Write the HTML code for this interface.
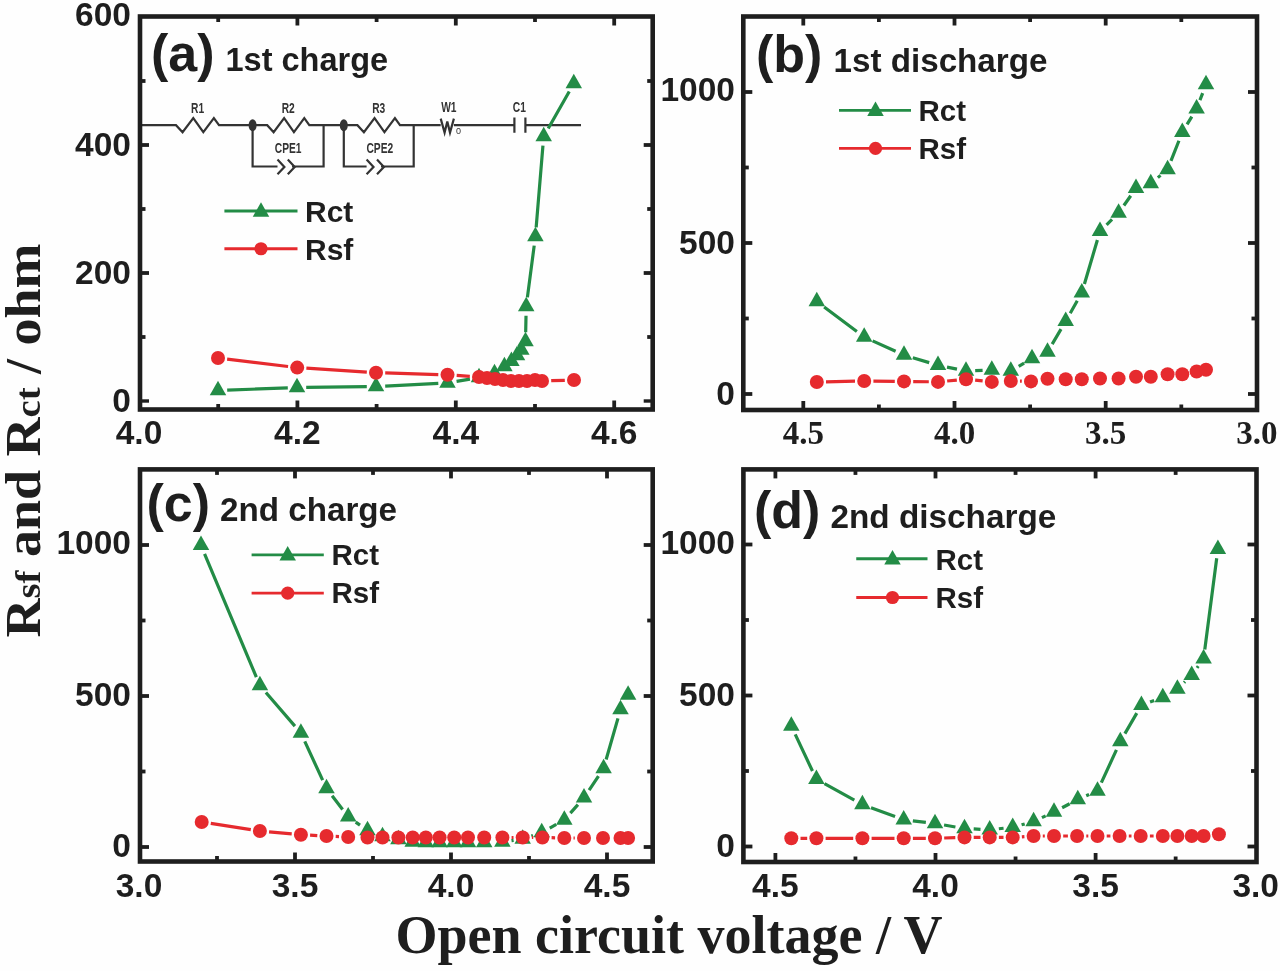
<!DOCTYPE html>
<html><head><meta charset="utf-8"><style>
html,body{margin:0;padding:0;background:#fff;width:1280px;height:971px;overflow:hidden}
svg{display:block;filter:blur(0.6px)}

</style></head><body>
<svg width="1280" height="971" viewBox="0 0 1280 971">
<rect width="1280" height="971" fill="#fefefe"/>
<line x1="218.20" y1="409.5" x2="218.20" y2="404.00" stroke="#1e1e1e" stroke-width="3.8"/>
<line x1="218.20" y1="16.5" x2="218.20" y2="22.00" stroke="#1e1e1e" stroke-width="3.8"/>
<line x1="297.40" y1="409.5" x2="297.40" y2="400.50" stroke="#1e1e1e" stroke-width="3.8"/>
<line x1="297.40" y1="16.5" x2="297.40" y2="25.50" stroke="#1e1e1e" stroke-width="3.8"/>
<line x1="376.60" y1="409.5" x2="376.60" y2="404.00" stroke="#1e1e1e" stroke-width="3.8"/>
<line x1="376.60" y1="16.5" x2="376.60" y2="22.00" stroke="#1e1e1e" stroke-width="3.8"/>
<line x1="455.80" y1="409.5" x2="455.80" y2="400.50" stroke="#1e1e1e" stroke-width="3.8"/>
<line x1="455.80" y1="16.5" x2="455.80" y2="25.50" stroke="#1e1e1e" stroke-width="3.8"/>
<line x1="535.00" y1="409.5" x2="535.00" y2="404.00" stroke="#1e1e1e" stroke-width="3.8"/>
<line x1="535.00" y1="16.5" x2="535.00" y2="22.00" stroke="#1e1e1e" stroke-width="3.8"/>
<line x1="614.20" y1="409.5" x2="614.20" y2="400.50" stroke="#1e1e1e" stroke-width="3.8"/>
<line x1="614.20" y1="16.5" x2="614.20" y2="25.50" stroke="#1e1e1e" stroke-width="3.8"/>
<line x1="140" y1="337.00" x2="145.50" y2="337.00" stroke="#1e1e1e" stroke-width="3.8"/>
<line x1="652.7" y1="337.00" x2="647.20" y2="337.00" stroke="#1e1e1e" stroke-width="3.8"/>
<line x1="140" y1="273.00" x2="149.00" y2="273.00" stroke="#1e1e1e" stroke-width="3.8"/>
<line x1="652.7" y1="273.00" x2="643.70" y2="273.00" stroke="#1e1e1e" stroke-width="3.8"/>
<line x1="140" y1="209.00" x2="145.50" y2="209.00" stroke="#1e1e1e" stroke-width="3.8"/>
<line x1="652.7" y1="209.00" x2="647.20" y2="209.00" stroke="#1e1e1e" stroke-width="3.8"/>
<line x1="140" y1="145.00" x2="149.00" y2="145.00" stroke="#1e1e1e" stroke-width="3.8"/>
<line x1="652.7" y1="145.00" x2="643.70" y2="145.00" stroke="#1e1e1e" stroke-width="3.8"/>
<line x1="140" y1="81.00" x2="145.50" y2="81.00" stroke="#1e1e1e" stroke-width="3.8"/>
<line x1="652.7" y1="81.00" x2="647.20" y2="81.00" stroke="#1e1e1e" stroke-width="3.8"/>
<line x1="140" y1="401.0" x2="149" y2="401.0" stroke="#1e1e1e" stroke-width="3.4"/>
<line x1="652.7" y1="401.0" x2="643.7" y2="401.0" stroke="#1e1e1e" stroke-width="3.4"/>
<text x="139.00" y="444.30" font-family='"Liberation Sans", sans-serif' font-weight="bold" font-size="33.5" text-anchor="middle" fill="#1e1e1e" >4.0</text>
<text x="297.40" y="444.30" font-family='"Liberation Sans", sans-serif' font-weight="bold" font-size="33.5" text-anchor="middle" fill="#1e1e1e" >4.2</text>
<text x="455.80" y="444.30" font-family='"Liberation Sans", sans-serif' font-weight="bold" font-size="33.5" text-anchor="middle" fill="#1e1e1e" >4.4</text>
<text x="614.20" y="444.30" font-family='"Liberation Sans", sans-serif' font-weight="bold" font-size="33.5" text-anchor="middle" fill="#1e1e1e" >4.6</text>
<text x="131.00" y="412.20" font-family='"Liberation Sans", sans-serif' font-weight="bold" font-size="33.5" text-anchor="end" fill="#1e1e1e" >0</text>
<text x="131.00" y="284.20" font-family='"Liberation Sans", sans-serif' font-weight="bold" font-size="33.5" text-anchor="end" fill="#1e1e1e" >200</text>
<text x="131.00" y="156.20" font-family='"Liberation Sans", sans-serif' font-weight="bold" font-size="33.5" text-anchor="end" fill="#1e1e1e" >400</text>
<text x="131.00" y="25.50" font-family='"Liberation Sans", sans-serif' font-weight="bold" font-size="33.5" text-anchor="end" fill="#1e1e1e" >600</text>
<g stroke="#333" stroke-width="2.2" fill="none" stroke-linejoin="miter">
<path d="M142 125.2 L176.00 125.20 L182.58 132.20 L193.29 118.20 L203.31 132.20 L213.88 118.20 L219.00 125.20 L267.2 125.2 L267.20 125.20 L273.64 132.20 L284.12 118.20 L293.93 132.20 L304.29 118.20 L309.30 125.20 L357.4 125.2 L357.40 125.20 L363.92 132.20 L374.53 118.20 L384.45 132.20 L394.93 118.20 L400.00 125.20 L440.7 125.2 M440.7 118.6 L444.6 132.6 L447.3 121.5 L450.0 132.6 L453.9 118.6 M453.9 125.2 L514.4 125.2 M525.4 125.2 L581 125.2"/>
<path d="M514.4 117.4 L514.4 132.7 M525.4 117.4 L525.4 132.7"/>
<path d="M252.6 125.2 L252.6 166.5 L277.5 166.5 M292 166.5 L323.6 166.5 L323.6 125.2"/>
<path d="M277.5 159.6 L284.4 166.9 L277.5 174.2 M287.8 159.6 L294.7 166.9 L287.8 174.2"/>
<path d="M343.8 125.2 L343.8 166.5 L366.6 166.5 M381 166.5 L413.7 166.5 L413.7 125.2"/>
<path d="M366.6 159.6 L373.5 166.9 L366.6 174.2 M377 159.6 L383.9 166.9 L377 174.2"/>
</g>
<ellipse cx="252.6" cy="125.2" rx="4" ry="6" fill="#333"/>
<ellipse cx="343.8" cy="125.2" rx="4" ry="6" fill="#333"/>
<text x="0" y="0" font-family='"Liberation Sans", sans-serif' font-weight="bold" font-size="15.5" text-anchor="middle" fill="#333" transform="translate(197.6 112.5) scale(0.66 1)">R1</text>
<text x="0" y="0" font-family='"Liberation Sans", sans-serif' font-weight="bold" font-size="15.5" text-anchor="middle" fill="#333" transform="translate(288.2 112.5) scale(0.66 1)">R2</text>
<text x="0" y="0" font-family='"Liberation Sans", sans-serif' font-weight="bold" font-size="15.5" text-anchor="middle" fill="#333" transform="translate(378.7 112.5) scale(0.66 1)">R3</text>
<text x="0" y="0" font-family='"Liberation Sans", sans-serif' font-weight="bold" font-size="15.5" text-anchor="middle" fill="#333" transform="translate(448.8 112) scale(0.66 1)">W1</text>
<text x="0" y="0" font-family='"Liberation Sans", sans-serif' font-weight="bold" font-size="15.5" text-anchor="middle" fill="#333" transform="translate(519.4 112) scale(0.66 1)">C1</text>
<text x="0" y="0" font-family='"Liberation Sans", sans-serif' font-weight="bold" font-size="15.5" text-anchor="middle" fill="#333" transform="translate(288.2 153.2) scale(0.66 1)">CPE1</text>
<text x="0" y="0" font-family='"Liberation Sans", sans-serif' font-weight="bold" font-size="15.5" text-anchor="middle" fill="#333" transform="translate(379.8 153) scale(0.66 1)">CPE2</text>
<text x="456" y="133.5" font-family='"Liberation Sans", sans-serif' font-size="9" fill="#333">0</text>
<line x1="224.4" y1="211" x2="297.5" y2="211" stroke="#238c46" stroke-width="2.8"/>
<path d="M261.00 202.15 L269.25 216.65 L252.75 216.65 Z" fill="#238c46"/>
<line x1="224.4" y1="248.75" x2="297.5" y2="248.75" stroke="#e62a2e" stroke-width="2.8"/>
<circle cx="261.00" cy="248.75" r="6.6" fill="#e62a2e"/>
<text x="305.00" y="221.90" font-family='"Liberation Sans", sans-serif' font-weight="bold" font-size="30" text-anchor="start" fill="#1e1e1e" >Rct</text>
<text x="305.00" y="260.00" font-family='"Liberation Sans", sans-serif' font-weight="bold" font-size="30" text-anchor="start" fill="#1e1e1e" >Rsf</text>
<text x="151.00" y="70.80" font-family='"Liberation Sans", sans-serif' font-weight="bold" font-size="52" text-anchor="start" fill="#1e1e1e" >(a)</text>
<text x="225.50" y="70.80" font-family='"Liberation Sans", sans-serif' font-weight="bold" font-size="32.5" text-anchor="start" fill="#1e1e1e" >1st charge</text>
<path d="M227.19 390.15 L287.81 387.85 M306.20 387.38 L366.80 386.62 M385.19 386.05 L438.31 383.45 M456.56 381.42 L469.94 379.08 M525.68 332.30 L526.02 315.70 M527.40 297.38 L534.20 245.62 M536.16 227.33 L542.94 145.67 M548.24 128.50 L569.26 91.50" fill="none" stroke="#238c46" stroke-width="3.2" stroke-linecap="butt"/>
<path d="M218.00 380.75 L226.25 395.25 L209.75 395.25 Z" fill="#238c46"/>
<path d="M297.00 377.75 L305.25 392.25 L288.75 392.25 Z" fill="#238c46"/>
<path d="M376.00 376.75 L384.25 391.25 L367.75 391.25 Z" fill="#238c46"/>
<path d="M447.50 373.25 L455.75 387.75 L439.25 387.75 Z" fill="#238c46"/>
<path d="M479.00 367.75 L487.25 382.25 L470.75 382.25 Z" fill="#238c46"/>
<path d="M494.50 363.75 L502.75 378.25 L486.25 378.25 Z" fill="#238c46"/>
<path d="M504.40 356.75 L512.65 371.25 L496.15 371.25 Z" fill="#238c46"/>
<path d="M511.40 351.45 L519.65 365.95 L503.15 365.95 Z" fill="#238c46"/>
<path d="M517.00 345.75 L525.25 360.25 L508.75 360.25 Z" fill="#238c46"/>
<path d="M521.30 340.25 L529.55 354.75 L513.05 354.75 Z" fill="#238c46"/>
<path d="M525.50 331.75 L533.75 346.25 L517.25 346.25 Z" fill="#238c46"/>
<path d="M526.20 296.75 L534.45 311.25 L517.95 311.25 Z" fill="#238c46"/>
<path d="M535.40 226.75 L543.65 241.25 L527.15 241.25 Z" fill="#238c46"/>
<path d="M543.70 126.75 L551.95 141.25 L535.45 141.25 Z" fill="#238c46"/>
<path d="M573.80 73.75 L582.05 88.25 L565.55 88.25 Z" fill="#238c46"/>
<path d="M227.13 359.11 L288.07 366.49 M306.38 368.19 L366.82 372.11 M385.20 372.97 L438.30 374.53 M456.68 375.44 L469.82 376.36 M551.20 380.71 L564.80 380.29" fill="none" stroke="#e62a2e" stroke-width="3.2" stroke-linecap="butt"/>
<circle cx="218.00" cy="358.00" r="7.0" fill="#e62a2e"/>
<circle cx="297.20" cy="367.60" r="7.0" fill="#e62a2e"/>
<circle cx="376.00" cy="372.70" r="7.0" fill="#e62a2e"/>
<circle cx="447.50" cy="374.80" r="7.0" fill="#e62a2e"/>
<circle cx="479.00" cy="377.00" r="7.0" fill="#e62a2e"/>
<circle cx="487.00" cy="378.00" r="7.0" fill="#e62a2e"/>
<circle cx="495.00" cy="379.00" r="7.0" fill="#e62a2e"/>
<circle cx="503.00" cy="380.00" r="7.0" fill="#e62a2e"/>
<circle cx="511.00" cy="381.00" r="7.0" fill="#e62a2e"/>
<circle cx="519.00" cy="381.00" r="7.0" fill="#e62a2e"/>
<circle cx="527.00" cy="381.00" r="7.0" fill="#e62a2e"/>
<circle cx="535.00" cy="380.00" r="7.0" fill="#e62a2e"/>
<circle cx="542.00" cy="381.00" r="7.0" fill="#e62a2e"/>
<circle cx="574.00" cy="380.00" r="7.0" fill="#e62a2e"/>
<line x1="803.30" y1="410" x2="803.30" y2="401.00" stroke="#1e1e1e" stroke-width="3.8"/>
<line x1="803.30" y1="16.5" x2="803.30" y2="25.50" stroke="#1e1e1e" stroke-width="3.8"/>
<line x1="878.90" y1="410" x2="878.90" y2="404.50" stroke="#1e1e1e" stroke-width="3.8"/>
<line x1="878.90" y1="16.5" x2="878.90" y2="22.00" stroke="#1e1e1e" stroke-width="3.8"/>
<line x1="954.50" y1="410" x2="954.50" y2="401.00" stroke="#1e1e1e" stroke-width="3.8"/>
<line x1="954.50" y1="16.5" x2="954.50" y2="25.50" stroke="#1e1e1e" stroke-width="3.8"/>
<line x1="1030.10" y1="410" x2="1030.10" y2="404.50" stroke="#1e1e1e" stroke-width="3.8"/>
<line x1="1030.10" y1="16.5" x2="1030.10" y2="22.00" stroke="#1e1e1e" stroke-width="3.8"/>
<line x1="1105.70" y1="410" x2="1105.70" y2="401.00" stroke="#1e1e1e" stroke-width="3.8"/>
<line x1="1105.70" y1="16.5" x2="1105.70" y2="25.50" stroke="#1e1e1e" stroke-width="3.8"/>
<line x1="1181.30" y1="410" x2="1181.30" y2="404.50" stroke="#1e1e1e" stroke-width="3.8"/>
<line x1="1181.30" y1="16.5" x2="1181.30" y2="22.00" stroke="#1e1e1e" stroke-width="3.8"/>
<line x1="743.3" y1="394.00" x2="752.30" y2="394.00" stroke="#1e1e1e" stroke-width="3.8"/>
<line x1="1257" y1="394.00" x2="1248.00" y2="394.00" stroke="#1e1e1e" stroke-width="3.8"/>
<line x1="743.3" y1="318.50" x2="748.80" y2="318.50" stroke="#1e1e1e" stroke-width="3.8"/>
<line x1="1257" y1="318.50" x2="1251.50" y2="318.50" stroke="#1e1e1e" stroke-width="3.8"/>
<line x1="743.3" y1="243.00" x2="752.30" y2="243.00" stroke="#1e1e1e" stroke-width="3.8"/>
<line x1="1257" y1="243.00" x2="1248.00" y2="243.00" stroke="#1e1e1e" stroke-width="3.8"/>
<line x1="743.3" y1="167.50" x2="748.80" y2="167.50" stroke="#1e1e1e" stroke-width="3.8"/>
<line x1="1257" y1="167.50" x2="1251.50" y2="167.50" stroke="#1e1e1e" stroke-width="3.8"/>
<line x1="743.3" y1="92.00" x2="752.30" y2="92.00" stroke="#1e1e1e" stroke-width="3.8"/>
<line x1="1257" y1="92.00" x2="1248.00" y2="92.00" stroke="#1e1e1e" stroke-width="3.8"/>
<text x="803.30" y="444.00" font-family='"Liberation Serif", serif' font-weight="bold" font-size="33" text-anchor="middle" fill="#1e1e1e" >4.5</text>
<text x="954.50" y="444.00" font-family='"Liberation Serif", serif' font-weight="bold" font-size="33" text-anchor="middle" fill="#1e1e1e" >4.0</text>
<text x="1105.70" y="444.00" font-family='"Liberation Serif", serif' font-weight="bold" font-size="33" text-anchor="middle" fill="#1e1e1e" >3.5</text>
<text x="1256.90" y="444.00" font-family='"Liberation Serif", serif' font-weight="bold" font-size="33" text-anchor="middle" fill="#1e1e1e" >3.0</text>
<text x="735.00" y="405.00" font-family='"Liberation Sans", sans-serif' font-weight="bold" font-size="33.5" text-anchor="end" fill="#1e1e1e" >0</text>
<text x="735.00" y="254.00" font-family='"Liberation Sans", sans-serif' font-weight="bold" font-size="33.5" text-anchor="end" fill="#1e1e1e" >500</text>
<text x="735.00" y="101.00" font-family='"Liberation Sans", sans-serif' font-weight="bold" font-size="33.5" text-anchor="end" fill="#1e1e1e" >1000</text>
<line x1="839" y1="110.3" x2="911" y2="110.3" stroke="#238c46" stroke-width="2.8"/>
<path d="M875.50 101.45 L883.75 115.95 L867.25 115.95 Z" fill="#238c46"/>
<line x1="839" y1="148.4" x2="911" y2="148.4" stroke="#e62a2e" stroke-width="2.8"/>
<circle cx="875.50" cy="148.40" r="6.6" fill="#e62a2e"/>
<text x="918.50" y="120.50" font-family='"Liberation Sans", sans-serif' font-weight="bold" font-size="29.5" text-anchor="start" fill="#1e1e1e" >Rct</text>
<text x="918.50" y="158.50" font-family='"Liberation Sans", sans-serif' font-weight="bold" font-size="29.5" text-anchor="start" fill="#1e1e1e" >Rsf</text>
<text x="756.00" y="72.00" font-family='"Liberation Sans", sans-serif' font-weight="bold" font-size="52" text-anchor="start" fill="#1e1e1e" >(b)</text>
<text x="833.50" y="72.00" font-family='"Liberation Sans", sans-serif' font-weight="bold" font-size="33.2" text-anchor="start" fill="#1e1e1e" >1st discharge</text>
<path d="M824.15 306.93 L856.85 331.57 M872.59 340.87 L895.61 351.23 M912.80 357.67 L929.20 362.63 M947.02 367.14 L956.98 369.16 M975.19 370.61 L982.61 370.29 M1018.72 366.33 L1024.08 363.17 M1052.18 344.08 L1061.02 329.12 M1070.24 313.20 L1077.26 300.80 M1084.41 283.98 L1097.39 240.02 M1106.58 224.77 L1112.02 219.43 M1123.88 205.47 L1130.72 195.73 M1157.87 177.61 L1160.53 175.39 M1170.97 160.94 L1178.93 140.76 M1187.08 124.34 L1191.82 116.56 M1199.93 100.12 L1202.67 93.08" fill="none" stroke="#238c46" stroke-width="3.2" stroke-linecap="butt"/>
<path d="M816.80 291.65 L825.05 306.15 L808.55 306.15 Z" fill="#238c46"/>
<path d="M864.20 327.35 L872.45 341.85 L855.95 341.85 Z" fill="#238c46"/>
<path d="M904.00 345.25 L912.25 359.75 L895.75 359.75 Z" fill="#238c46"/>
<path d="M938.00 355.55 L946.25 370.05 L929.75 370.05 Z" fill="#238c46"/>
<path d="M966.00 361.25 L974.25 375.75 L957.75 375.75 Z" fill="#238c46"/>
<path d="M991.80 360.15 L1000.05 374.65 L983.55 374.65 Z" fill="#238c46"/>
<path d="M1010.80 361.25 L1019.05 375.75 L1002.55 375.75 Z" fill="#238c46"/>
<path d="M1032.00 348.75 L1040.25 363.25 L1023.75 363.25 Z" fill="#238c46"/>
<path d="M1047.50 342.25 L1055.75 356.75 L1039.25 356.75 Z" fill="#238c46"/>
<path d="M1065.70 311.45 L1073.95 325.95 L1057.45 325.95 Z" fill="#238c46"/>
<path d="M1081.80 283.05 L1090.05 297.55 L1073.55 297.55 Z" fill="#238c46"/>
<path d="M1100.00 221.45 L1108.25 235.95 L1091.75 235.95 Z" fill="#238c46"/>
<path d="M1118.60 203.25 L1126.85 217.75 L1110.35 217.75 Z" fill="#238c46"/>
<path d="M1136.00 178.45 L1144.25 192.95 L1127.75 192.95 Z" fill="#238c46"/>
<path d="M1150.80 173.75 L1159.05 188.25 L1142.55 188.25 Z" fill="#238c46"/>
<path d="M1167.60 159.75 L1175.85 174.25 L1159.35 174.25 Z" fill="#238c46"/>
<path d="M1182.30 122.45 L1190.55 136.95 L1174.05 136.95 Z" fill="#238c46"/>
<path d="M1196.60 98.95 L1204.85 113.45 L1188.35 113.45 Z" fill="#238c46"/>
<path d="M1206.00 74.75 L1214.25 89.25 L1197.75 89.25 Z" fill="#238c46"/>
<path d="M826.00 381.81 L855.00 381.19 M873.40 381.09 L894.80 381.31 M913.20 381.54 L928.80 381.76 M947.16 381.02 L956.84 380.08 M975.15 380.16 L982.65 380.94 M1020.00 381.18 L1021.80 381.22" fill="none" stroke="#e62a2e" stroke-width="3.2" stroke-linecap="butt"/>
<circle cx="816.80" cy="382.00" r="7.0" fill="#e62a2e"/>
<circle cx="864.20" cy="381.00" r="7.0" fill="#e62a2e"/>
<circle cx="904.00" cy="381.40" r="7.0" fill="#e62a2e"/>
<circle cx="938.00" cy="381.90" r="7.0" fill="#e62a2e"/>
<circle cx="966.00" cy="379.20" r="7.0" fill="#e62a2e"/>
<circle cx="991.80" cy="381.90" r="7.0" fill="#e62a2e"/>
<circle cx="1010.80" cy="381.00" r="7.0" fill="#e62a2e"/>
<circle cx="1031.00" cy="381.40" r="7.0" fill="#e62a2e"/>
<circle cx="1047.50" cy="378.80" r="7.0" fill="#e62a2e"/>
<circle cx="1065.70" cy="379.20" r="7.0" fill="#e62a2e"/>
<circle cx="1081.80" cy="379.20" r="7.0" fill="#e62a2e"/>
<circle cx="1100.00" cy="378.50" r="7.0" fill="#e62a2e"/>
<circle cx="1118.60" cy="378.50" r="7.0" fill="#e62a2e"/>
<circle cx="1136.00" cy="376.80" r="7.0" fill="#e62a2e"/>
<circle cx="1150.80" cy="376.80" r="7.0" fill="#e62a2e"/>
<circle cx="1167.60" cy="374.30" r="7.0" fill="#e62a2e"/>
<circle cx="1182.30" cy="374.30" r="7.0" fill="#e62a2e"/>
<circle cx="1196.60" cy="371.50" r="7.0" fill="#e62a2e"/>
<circle cx="1206.00" cy="369.80" r="7.0" fill="#e62a2e"/>
<line x1="217.00" y1="861.5" x2="217.00" y2="856.00" stroke="#1e1e1e" stroke-width="3.8"/>
<line x1="217.00" y1="469.4" x2="217.00" y2="474.90" stroke="#1e1e1e" stroke-width="3.8"/>
<line x1="295.00" y1="861.5" x2="295.00" y2="852.50" stroke="#1e1e1e" stroke-width="3.8"/>
<line x1="295.00" y1="469.4" x2="295.00" y2="478.40" stroke="#1e1e1e" stroke-width="3.8"/>
<line x1="373.00" y1="861.5" x2="373.00" y2="856.00" stroke="#1e1e1e" stroke-width="3.8"/>
<line x1="373.00" y1="469.4" x2="373.00" y2="474.90" stroke="#1e1e1e" stroke-width="3.8"/>
<line x1="451.00" y1="861.5" x2="451.00" y2="852.50" stroke="#1e1e1e" stroke-width="3.8"/>
<line x1="451.00" y1="469.4" x2="451.00" y2="478.40" stroke="#1e1e1e" stroke-width="3.8"/>
<line x1="529.00" y1="861.5" x2="529.00" y2="856.00" stroke="#1e1e1e" stroke-width="3.8"/>
<line x1="529.00" y1="469.4" x2="529.00" y2="474.90" stroke="#1e1e1e" stroke-width="3.8"/>
<line x1="607.00" y1="861.5" x2="607.00" y2="852.50" stroke="#1e1e1e" stroke-width="3.8"/>
<line x1="607.00" y1="469.4" x2="607.00" y2="478.40" stroke="#1e1e1e" stroke-width="3.8"/>
<line x1="140" y1="847.00" x2="149.00" y2="847.00" stroke="#1e1e1e" stroke-width="3.8"/>
<line x1="652.7" y1="847.00" x2="643.70" y2="847.00" stroke="#1e1e1e" stroke-width="3.8"/>
<line x1="140" y1="771.50" x2="145.50" y2="771.50" stroke="#1e1e1e" stroke-width="3.8"/>
<line x1="652.7" y1="771.50" x2="647.20" y2="771.50" stroke="#1e1e1e" stroke-width="3.8"/>
<line x1="140" y1="696.00" x2="149.00" y2="696.00" stroke="#1e1e1e" stroke-width="3.8"/>
<line x1="652.7" y1="696.00" x2="643.70" y2="696.00" stroke="#1e1e1e" stroke-width="3.8"/>
<line x1="140" y1="620.50" x2="145.50" y2="620.50" stroke="#1e1e1e" stroke-width="3.8"/>
<line x1="652.7" y1="620.50" x2="647.20" y2="620.50" stroke="#1e1e1e" stroke-width="3.8"/>
<line x1="140" y1="545.00" x2="149.00" y2="545.00" stroke="#1e1e1e" stroke-width="3.8"/>
<line x1="652.7" y1="545.00" x2="643.70" y2="545.00" stroke="#1e1e1e" stroke-width="3.8"/>
<text x="139.00" y="896.80" font-family='"Liberation Sans", sans-serif' font-weight="bold" font-size="33.5" text-anchor="middle" fill="#1e1e1e" >3.0</text>
<text x="295.00" y="896.80" font-family='"Liberation Sans", sans-serif' font-weight="bold" font-size="33.5" text-anchor="middle" fill="#1e1e1e" >3.5</text>
<text x="451.00" y="896.80" font-family='"Liberation Sans", sans-serif' font-weight="bold" font-size="33.5" text-anchor="middle" fill="#1e1e1e" >4.0</text>
<text x="607.00" y="896.80" font-family='"Liberation Sans", sans-serif' font-weight="bold" font-size="33.5" text-anchor="middle" fill="#1e1e1e" >4.5</text>
<text x="131.00" y="857.20" font-family='"Liberation Sans", sans-serif' font-weight="bold" font-size="33.5" text-anchor="end" fill="#1e1e1e" >0</text>
<text x="131.00" y="706.20" font-family='"Liberation Sans", sans-serif' font-weight="bold" font-size="33.5" text-anchor="end" fill="#1e1e1e" >500</text>
<text x="131.00" y="554.00" font-family='"Liberation Sans", sans-serif' font-weight="bold" font-size="33.5" text-anchor="end" fill="#1e1e1e" >1000</text>
<line x1="251.6" y1="554.8" x2="323.8" y2="554.8" stroke="#238c46" stroke-width="2.8"/>
<path d="M287.70 545.95 L295.95 560.45 L279.45 560.45 Z" fill="#238c46"/>
<line x1="251.6" y1="593.1" x2="323.8" y2="593.1" stroke="#e62a2e" stroke-width="2.8"/>
<circle cx="287.70" cy="593.10" r="6.6" fill="#e62a2e"/>
<text x="331.50" y="565.10" font-family='"Liberation Sans", sans-serif' font-weight="bold" font-size="29.5" text-anchor="start" fill="#1e1e1e" >Rct</text>
<text x="331.50" y="603.00" font-family='"Liberation Sans", sans-serif' font-weight="bold" font-size="29.5" text-anchor="start" fill="#1e1e1e" >Rsf</text>
<text x="146.50" y="521.00" font-family='"Liberation Sans", sans-serif' font-weight="bold" font-size="52" text-anchor="start" fill="#1e1e1e" >(c)</text>
<text x="220.00" y="521.00" font-family='"Liberation Sans", sans-serif' font-weight="bold" font-size="33.2" text-anchor="start" fill="#1e1e1e" >2nd charge</text>
<path d="M204.56 553.78 L256.34 677.02 M265.90 692.47 L294.90 726.13 M304.76 741.45 L322.64 780.15 M332.10 795.80 L342.60 809.50 M355.70 822.13 L360.00 825.17 M511.50 840.66 L513.60 840.34 M531.40 836.02 L533.00 835.48 M549.75 828.05 L556.25 824.45 M570.39 813.11 L577.91 804.59 M589.12 790.05 L598.48 776.05 M606.14 759.56 L617.96 718.34" fill="none" stroke="#238c46" stroke-width="3.2" stroke-linecap="butt"/>
<path d="M201.00 535.55 L209.25 550.05 L192.75 550.05 Z" fill="#238c46"/>
<path d="M259.90 675.75 L268.15 690.25 L251.65 690.25 Z" fill="#238c46"/>
<path d="M300.90 723.35 L309.15 737.85 L292.65 737.85 Z" fill="#238c46"/>
<path d="M326.50 778.75 L334.75 793.25 L318.25 793.25 Z" fill="#238c46"/>
<path d="M348.20 807.05 L356.45 821.55 L339.95 821.55 Z" fill="#238c46"/>
<path d="M367.50 820.75 L375.75 835.25 L359.25 835.25 Z" fill="#238c46"/>
<path d="M382.50 826.75 L390.75 841.25 L374.25 841.25 Z" fill="#238c46"/>
<path d="M398.40 829.75 L406.65 844.25 L390.15 844.25 Z" fill="#238c46"/>
<path d="M412.70 832.25 L420.95 846.75 L404.45 846.75 Z" fill="#238c46"/>
<path d="M425.80 832.75 L434.05 847.25 L417.55 847.25 Z" fill="#238c46"/>
<path d="M439.60 832.75 L447.85 847.25 L431.35 847.25 Z" fill="#238c46"/>
<path d="M454.20 832.75 L462.45 847.25 L445.95 847.25 Z" fill="#238c46"/>
<path d="M468.00 832.75 L476.25 847.25 L459.75 847.25 Z" fill="#238c46"/>
<path d="M484.20 832.75 L492.45 847.25 L475.95 847.25 Z" fill="#238c46"/>
<path d="M502.40 832.25 L510.65 846.75 L494.15 846.75 Z" fill="#238c46"/>
<path d="M522.70 829.25 L530.95 843.75 L514.45 843.75 Z" fill="#238c46"/>
<path d="M541.70 822.75 L549.95 837.25 L533.45 837.25 Z" fill="#238c46"/>
<path d="M564.30 810.25 L572.55 824.75 L556.05 824.75 Z" fill="#238c46"/>
<path d="M584.00 787.95 L592.25 802.45 L575.75 802.45 Z" fill="#238c46"/>
<path d="M603.60 758.65 L611.85 773.15 L595.35 773.15 Z" fill="#238c46"/>
<path d="M620.50 699.75 L628.75 714.25 L612.25 714.25 Z" fill="#238c46"/>
<path d="M628.10 685.15 L636.35 699.65 L619.85 699.65 Z" fill="#238c46"/>
<path d="M210.79 823.41 L250.81 829.59 M269.06 831.83 L291.74 833.87 M310.09 835.17 L317.31 835.53 M335.69 836.42 L339.01 836.58 M511.60 837.50 L513.50 837.50 M531.90 837.50 L533.20 837.50 M551.60 837.71 L555.10 837.79 M573.50 838.00 L574.80 838.00" fill="none" stroke="#e62a2e" stroke-width="3.2" stroke-linecap="butt"/>
<circle cx="201.70" cy="822.00" r="7.0" fill="#e62a2e"/>
<circle cx="259.90" cy="831.00" r="7.0" fill="#e62a2e"/>
<circle cx="300.90" cy="834.70" r="7.0" fill="#e62a2e"/>
<circle cx="326.50" cy="836.00" r="7.0" fill="#e62a2e"/>
<circle cx="348.20" cy="837.00" r="7.0" fill="#e62a2e"/>
<circle cx="367.50" cy="837.50" r="7.0" fill="#e62a2e"/>
<circle cx="382.50" cy="837.50" r="7.0" fill="#e62a2e"/>
<circle cx="398.40" cy="837.50" r="7.0" fill="#e62a2e"/>
<circle cx="412.70" cy="837.50" r="7.0" fill="#e62a2e"/>
<circle cx="425.80" cy="837.50" r="7.0" fill="#e62a2e"/>
<circle cx="439.60" cy="837.50" r="7.0" fill="#e62a2e"/>
<circle cx="454.20" cy="837.50" r="7.0" fill="#e62a2e"/>
<circle cx="468.00" cy="837.50" r="7.0" fill="#e62a2e"/>
<circle cx="484.20" cy="837.50" r="7.0" fill="#e62a2e"/>
<circle cx="502.40" cy="837.50" r="7.0" fill="#e62a2e"/>
<circle cx="522.70" cy="837.50" r="7.0" fill="#e62a2e"/>
<circle cx="542.40" cy="837.50" r="7.0" fill="#e62a2e"/>
<circle cx="564.30" cy="838.00" r="7.0" fill="#e62a2e"/>
<circle cx="584.00" cy="838.00" r="7.0" fill="#e62a2e"/>
<circle cx="603.00" cy="838.00" r="7.0" fill="#e62a2e"/>
<circle cx="620.50" cy="838.00" r="7.0" fill="#e62a2e"/>
<circle cx="628.10" cy="838.00" r="7.0" fill="#e62a2e"/>
<line x1="775.40" y1="862" x2="775.40" y2="853.00" stroke="#1e1e1e" stroke-width="3.8"/>
<line x1="775.40" y1="469.4" x2="775.40" y2="478.40" stroke="#1e1e1e" stroke-width="3.8"/>
<line x1="855.45" y1="862" x2="855.45" y2="856.50" stroke="#1e1e1e" stroke-width="3.8"/>
<line x1="855.45" y1="469.4" x2="855.45" y2="474.90" stroke="#1e1e1e" stroke-width="3.8"/>
<line x1="935.50" y1="862" x2="935.50" y2="853.00" stroke="#1e1e1e" stroke-width="3.8"/>
<line x1="935.50" y1="469.4" x2="935.50" y2="478.40" stroke="#1e1e1e" stroke-width="3.8"/>
<line x1="1015.55" y1="862" x2="1015.55" y2="856.50" stroke="#1e1e1e" stroke-width="3.8"/>
<line x1="1015.55" y1="469.4" x2="1015.55" y2="474.90" stroke="#1e1e1e" stroke-width="3.8"/>
<line x1="1095.60" y1="862" x2="1095.60" y2="853.00" stroke="#1e1e1e" stroke-width="3.8"/>
<line x1="1095.60" y1="469.4" x2="1095.60" y2="478.40" stroke="#1e1e1e" stroke-width="3.8"/>
<line x1="1175.65" y1="862" x2="1175.65" y2="856.50" stroke="#1e1e1e" stroke-width="3.8"/>
<line x1="1175.65" y1="469.4" x2="1175.65" y2="474.90" stroke="#1e1e1e" stroke-width="3.8"/>
<line x1="743.4" y1="846.50" x2="752.40" y2="846.50" stroke="#1e1e1e" stroke-width="3.8"/>
<line x1="1256.5" y1="846.50" x2="1247.50" y2="846.50" stroke="#1e1e1e" stroke-width="3.8"/>
<line x1="743.4" y1="771.00" x2="748.90" y2="771.00" stroke="#1e1e1e" stroke-width="3.8"/>
<line x1="1256.5" y1="771.00" x2="1251.00" y2="771.00" stroke="#1e1e1e" stroke-width="3.8"/>
<line x1="743.4" y1="695.50" x2="752.40" y2="695.50" stroke="#1e1e1e" stroke-width="3.8"/>
<line x1="1256.5" y1="695.50" x2="1247.50" y2="695.50" stroke="#1e1e1e" stroke-width="3.8"/>
<line x1="743.4" y1="620.00" x2="748.90" y2="620.00" stroke="#1e1e1e" stroke-width="3.8"/>
<line x1="1256.5" y1="620.00" x2="1251.00" y2="620.00" stroke="#1e1e1e" stroke-width="3.8"/>
<line x1="743.4" y1="544.50" x2="752.40" y2="544.50" stroke="#1e1e1e" stroke-width="3.8"/>
<line x1="1256.5" y1="544.50" x2="1247.50" y2="544.50" stroke="#1e1e1e" stroke-width="3.8"/>
<text x="775.40" y="896.80" font-family='"Liberation Sans", sans-serif' font-weight="bold" font-size="33.5" text-anchor="middle" fill="#1e1e1e" >4.5</text>
<text x="935.50" y="896.80" font-family='"Liberation Sans", sans-serif' font-weight="bold" font-size="33.5" text-anchor="middle" fill="#1e1e1e" >4.0</text>
<text x="1095.60" y="896.80" font-family='"Liberation Sans", sans-serif' font-weight="bold" font-size="33.5" text-anchor="middle" fill="#1e1e1e" >3.5</text>
<text x="1255.70" y="896.80" font-family='"Liberation Sans", sans-serif' font-weight="bold" font-size="33.5" text-anchor="middle" fill="#1e1e1e" >3.0</text>
<text x="735.00" y="856.70" font-family='"Liberation Sans", sans-serif' font-weight="bold" font-size="33.5" text-anchor="end" fill="#1e1e1e" >0</text>
<text x="735.00" y="705.70" font-family='"Liberation Sans", sans-serif' font-weight="bold" font-size="33.5" text-anchor="end" fill="#1e1e1e" >500</text>
<text x="735.00" y="553.50" font-family='"Liberation Sans", sans-serif' font-weight="bold" font-size="33.5" text-anchor="end" fill="#1e1e1e" >1000</text>
<line x1="856.25" y1="558.75" x2="927.5" y2="558.75" stroke="#238c46" stroke-width="2.8"/>
<path d="M892.50 549.90 L900.75 564.40 L884.25 564.40 Z" fill="#238c46"/>
<line x1="856.25" y1="597.5" x2="927.5" y2="597.5" stroke="#e62a2e" stroke-width="2.8"/>
<circle cx="892.50" cy="597.50" r="6.6" fill="#e62a2e"/>
<text x="935.50" y="570.00" font-family='"Liberation Sans", sans-serif' font-weight="bold" font-size="29.5" text-anchor="start" fill="#1e1e1e" >Rct</text>
<text x="935.50" y="607.50" font-family='"Liberation Sans", sans-serif' font-weight="bold" font-size="29.5" text-anchor="start" fill="#1e1e1e" >Rsf</text>
<text x="754.00" y="527.50" font-family='"Liberation Sans", sans-serif' font-weight="bold" font-size="52" text-anchor="start" fill="#1e1e1e" >(d)</text>
<text x="830.50" y="527.50" font-family='"Liberation Sans", sans-serif' font-weight="bold" font-size="33.3" text-anchor="start" fill="#1e1e1e" >2nd discharge</text>
<path d="M795.23 734.42 L812.47 770.98 M824.47 783.72 L854.33 800.08 M871.03 807.70 L895.07 816.60 M912.84 820.88 L925.86 822.42 M944.07 825.04 L955.43 826.96 M973.69 828.97 L980.51 829.33 M998.84 828.77 L1003.56 828.23 M1021.58 824.78 L1024.72 823.92 M1041.94 817.62 L1045.66 815.88 M1062.14 807.72 L1069.66 803.78 M1086.23 795.82 L1089.07 794.58 M1101.36 782.55 L1116.44 749.95 M1124.91 733.64 L1136.79 713.16 M1150.04 702.05 L1154.16 700.55 M1184.07 682.56 L1185.03 681.64 M1197.06 667.82 L1198.24 666.18 M1204.79 649.58 L1216.71 558.32" fill="none" stroke="#238c46" stroke-width="3.2" stroke-linecap="butt"/>
<path d="M791.30 716.35 L799.55 730.85 L783.05 730.85 Z" fill="#238c46"/>
<path d="M816.40 769.55 L824.65 784.05 L808.15 784.05 Z" fill="#238c46"/>
<path d="M862.40 794.75 L870.65 809.25 L854.15 809.25 Z" fill="#238c46"/>
<path d="M903.70 810.05 L911.95 824.55 L895.45 824.55 Z" fill="#238c46"/>
<path d="M935.00 813.75 L943.25 828.25 L926.75 828.25 Z" fill="#238c46"/>
<path d="M964.50 818.75 L972.75 833.25 L956.25 833.25 Z" fill="#238c46"/>
<path d="M989.70 820.05 L997.95 834.55 L981.45 834.55 Z" fill="#238c46"/>
<path d="M1012.70 817.45 L1020.95 831.95 L1004.45 831.95 Z" fill="#238c46"/>
<path d="M1033.60 811.75 L1041.85 826.25 L1025.35 826.25 Z" fill="#238c46"/>
<path d="M1054.00 802.25 L1062.25 816.75 L1045.75 816.75 Z" fill="#238c46"/>
<path d="M1077.80 789.75 L1086.05 804.25 L1069.55 804.25 Z" fill="#238c46"/>
<path d="M1097.50 781.15 L1105.75 795.65 L1089.25 795.65 Z" fill="#238c46"/>
<path d="M1120.30 731.85 L1128.55 746.35 L1112.05 746.35 Z" fill="#238c46"/>
<path d="M1141.40 695.45 L1149.65 709.95 L1133.15 709.95 Z" fill="#238c46"/>
<path d="M1162.80 687.65 L1171.05 702.15 L1154.55 702.15 Z" fill="#238c46"/>
<path d="M1177.40 679.15 L1185.65 693.65 L1169.15 693.65 Z" fill="#238c46"/>
<path d="M1191.70 665.55 L1199.95 680.05 L1183.45 680.05 Z" fill="#238c46"/>
<path d="M1203.60 648.95 L1211.85 663.45 L1195.35 663.45 Z" fill="#238c46"/>
<path d="M1217.90 539.45 L1226.15 553.95 L1209.65 553.95 Z" fill="#238c46"/>
<path d="M800.50 838.30 L807.20 838.30 M825.60 838.30 L853.20 838.30 M871.60 838.30 L894.50 838.30 M912.90 838.30 L925.80 838.30 M944.20 838.02 L955.30 837.68 M973.70 837.40 L980.50 837.40 M998.90 837.40 L1003.50 837.40 M1021.88 836.79 L1024.42 836.61 M1042.80 836.00 L1044.80 836.00 M1063.20 836.00 L1067.90 836.00 M1086.30 836.00 L1088.30 836.00 M1106.70 836.00 L1110.40 836.00 M1128.80 836.00 L1131.50 836.00 M1149.90 836.00 L1153.60 836.00" fill="none" stroke="#e62a2e" stroke-width="3.2" stroke-linecap="butt"/>
<circle cx="791.30" cy="838.30" r="7.0" fill="#e62a2e"/>
<circle cx="816.40" cy="838.30" r="7.0" fill="#e62a2e"/>
<circle cx="862.40" cy="838.30" r="7.0" fill="#e62a2e"/>
<circle cx="903.70" cy="838.30" r="7.0" fill="#e62a2e"/>
<circle cx="935.00" cy="838.30" r="7.0" fill="#e62a2e"/>
<circle cx="964.50" cy="837.40" r="7.0" fill="#e62a2e"/>
<circle cx="989.70" cy="837.40" r="7.0" fill="#e62a2e"/>
<circle cx="1012.70" cy="837.40" r="7.0" fill="#e62a2e"/>
<circle cx="1033.60" cy="836.00" r="7.0" fill="#e62a2e"/>
<circle cx="1054.00" cy="836.00" r="7.0" fill="#e62a2e"/>
<circle cx="1077.10" cy="836.00" r="7.0" fill="#e62a2e"/>
<circle cx="1097.50" cy="836.00" r="7.0" fill="#e62a2e"/>
<circle cx="1119.60" cy="836.00" r="7.0" fill="#e62a2e"/>
<circle cx="1140.70" cy="836.00" r="7.0" fill="#e62a2e"/>
<circle cx="1162.80" cy="836.00" r="7.0" fill="#e62a2e"/>
<circle cx="1177.40" cy="836.00" r="7.0" fill="#e62a2e"/>
<circle cx="1191.70" cy="836.00" r="7.0" fill="#e62a2e"/>
<circle cx="1203.60" cy="836.00" r="7.0" fill="#e62a2e"/>
<circle cx="1218.90" cy="834.30" r="7.0" fill="#e62a2e"/>
<rect x="140" y="16.5" width="512.70" height="393.00" fill="none" stroke="#1e1e1e" stroke-width="4.6"/>
<rect x="743.3" y="16.5" width="513.70" height="393.50" fill="none" stroke="#1e1e1e" stroke-width="4.6"/>
<rect x="140" y="469.4" width="512.70" height="392.10" fill="none" stroke="#1e1e1e" stroke-width="4.6"/>
<rect x="743.4" y="469.4" width="513.10" height="392.60" fill="none" stroke="#1e1e1e" stroke-width="4.6"/>
<text x="395.5" y="953.4" font-family='"Liberation Serif", serif' font-weight="bold" font-size="54" fill="#1e1e1e">Open circuit voltage / V</text>
<text transform="translate(40 637.5) rotate(-90) scale(1.059 1)" x="0" y="0" font-family='"Liberation Serif", serif' font-weight="bold" font-size="51" fill="#1e1e1e">R<tspan font-size="36.5">sf</tspan> and R<tspan font-size="36.5">ct</tspan> / ohm</text>
</svg></body></html>
